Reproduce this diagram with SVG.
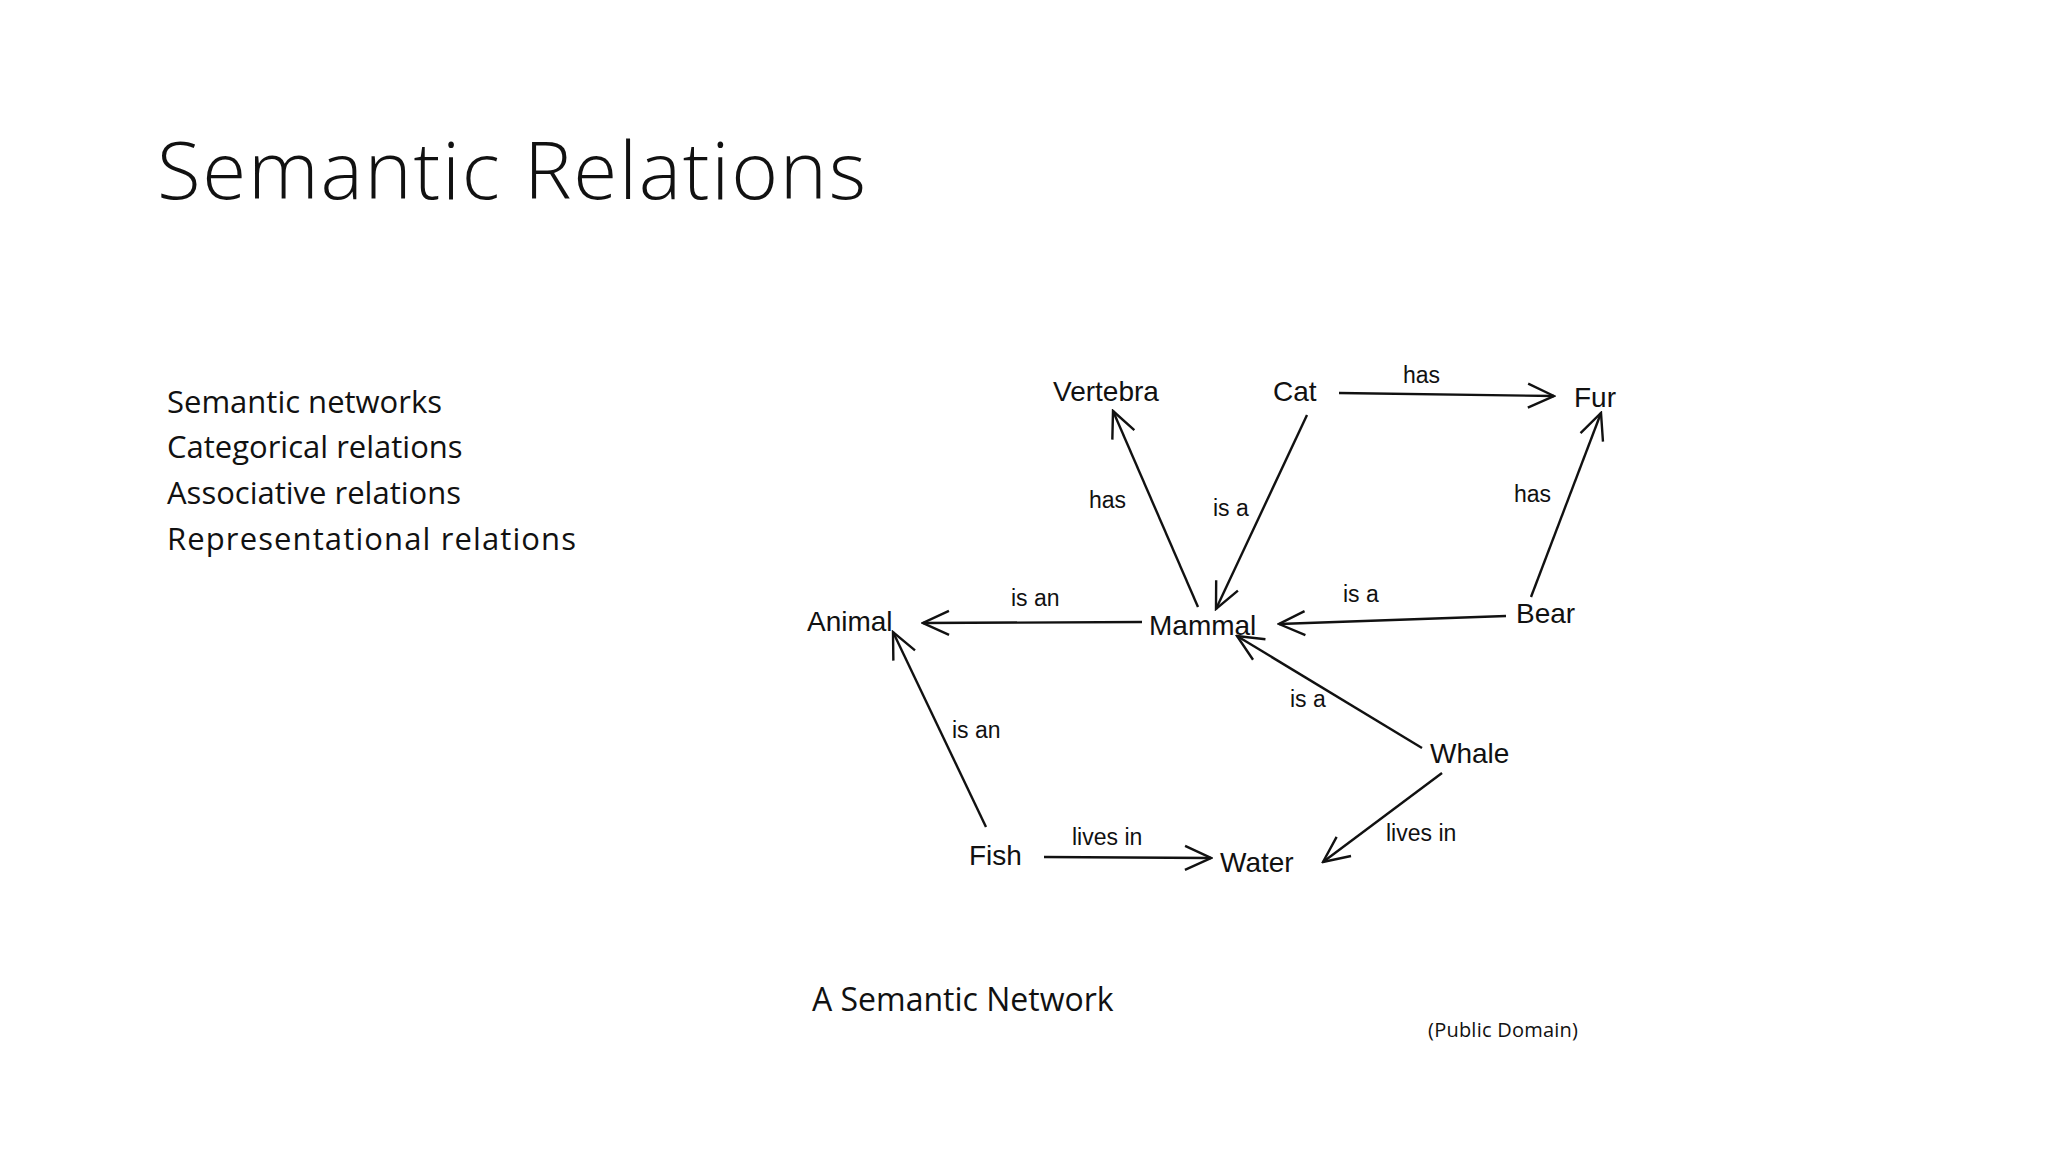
<svg xmlns="http://www.w3.org/2000/svg" width="2048" height="1152" viewBox="0 0 2048 1152">
<defs>
<style>
.t{font-family:"Open Sans","Liberation Sans",sans-serif;fill:#111}
.n{font-family:"Liberation Sans",Arial,sans-serif;font-size:28px;fill:#111}
.l{font-family:"Liberation Sans",Arial,sans-serif;font-size:23px;fill:#111}
.e{stroke:#111;stroke-width:2.4;fill:none;marker-end:url(#a)}
</style>
<marker id="a" viewBox="0 0 20 20" refX="18" refY="10" markerWidth="12" markerHeight="12" markerUnits="userSpaceOnUse" orient="auto">
<path d="M2 2 L18 10 L2 18" fill="none" stroke="#111" stroke-width="2.4"/>
</marker>
<marker id="a2" viewBox="0 0 30 30" refX="28" refY="15" markerWidth="30" markerHeight="30" markerUnits="userSpaceOnUse" orient="auto">
<path d="M2 3 L28 15 L2 27" fill="none" stroke="#111" stroke-width="2.4"/>
</marker>
</defs>
<rect width="2048" height="1152" fill="#fff"/>
<text class="t" x="157" y="199" font-size="80" font-weight="300" textLength="709">Semantic Relations</text>
<g class="t" font-size="31">
<text x="167" y="413">Semantic networks</text>
<text x="167" y="458">Categorical relations</text>
<text x="167" y="504">Associative relations</text>
<text x="167" y="550" textLength="409">Representational relations</text>
</g>
<g id="connectors">
<line class="e" style="marker-end:url(#a2)" x1="1339" y1="393" x2="1554" y2="396"/>
<line class="e" style="marker-end:url(#a2)" x1="1198" y1="607" x2="1113" y2="411"/>
<line class="e" style="marker-end:url(#a2)" x1="1307" y1="415" x2="1216" y2="609"/>
<line class="e" style="marker-end:url(#a2)" x1="1531" y1="597" x2="1601" y2="413"/>
<line class="e" style="marker-end:url(#a2)" x1="1142" y1="622" x2="923" y2="623"/>
<line class="e" style="marker-end:url(#a2)" x1="1506" y1="616" x2="1279" y2="624"/>
<line class="e" style="marker-end:url(#a2)" x1="1422" y1="748" x2="1237" y2="636"/>
<line class="e" style="marker-end:url(#a2)" x1="986" y1="827" x2="893" y2="632"/>
<line class="e" style="marker-end:url(#a2)" x1="1044" y1="857" x2="1211" y2="858"/>
<line class="e" style="marker-end:url(#a2)" x1="1442" y1="773" x2="1323" y2="862"/>
<g class="l">
<text x="1403" y="383">has</text>
<text x="1089" y="508">has</text>
<text x="1213" y="516">is a</text>
<text x="1514" y="502">has</text>
<text x="1011" y="606">is an</text>
<text x="1343" y="602">is a</text>
<text x="1290" y="707">is a</text>
<text x="952" y="738">is an</text>
<text x="1072" y="845">lives in</text>
<text x="1386" y="841">lives in</text>
</g>
</g>
<g id="vertebra"><text class="n" x="1053" y="401">Vertebra</text></g>
<g id="cat"><text class="n" x="1273" y="401">Cat</text></g>
<g id="fur"><text class="n" x="1574" y="407">Fur</text></g>
<g id="animal"><text class="n" x="807" y="631">Animal</text></g>
<g id="mammal"><text class="n" x="1149" y="635">Mammal</text></g>
<g id="bear"><text class="n" x="1516" y="623">Bear</text></g>
<g id="whale"><text class="n" x="1430" y="763">Whale</text></g>
<g id="fish"><text class="n" x="969" y="865">Fish</text></g>
<g id="water"><text class="n" x="1220" y="872">Water</text></g>
<text class="t" x="812" y="1011" font-size="32">A Semantic Network</text>
<text class="t" x="1428" y="1037" font-size="20" textLength="150">(Public Domain)</text>
</svg>
